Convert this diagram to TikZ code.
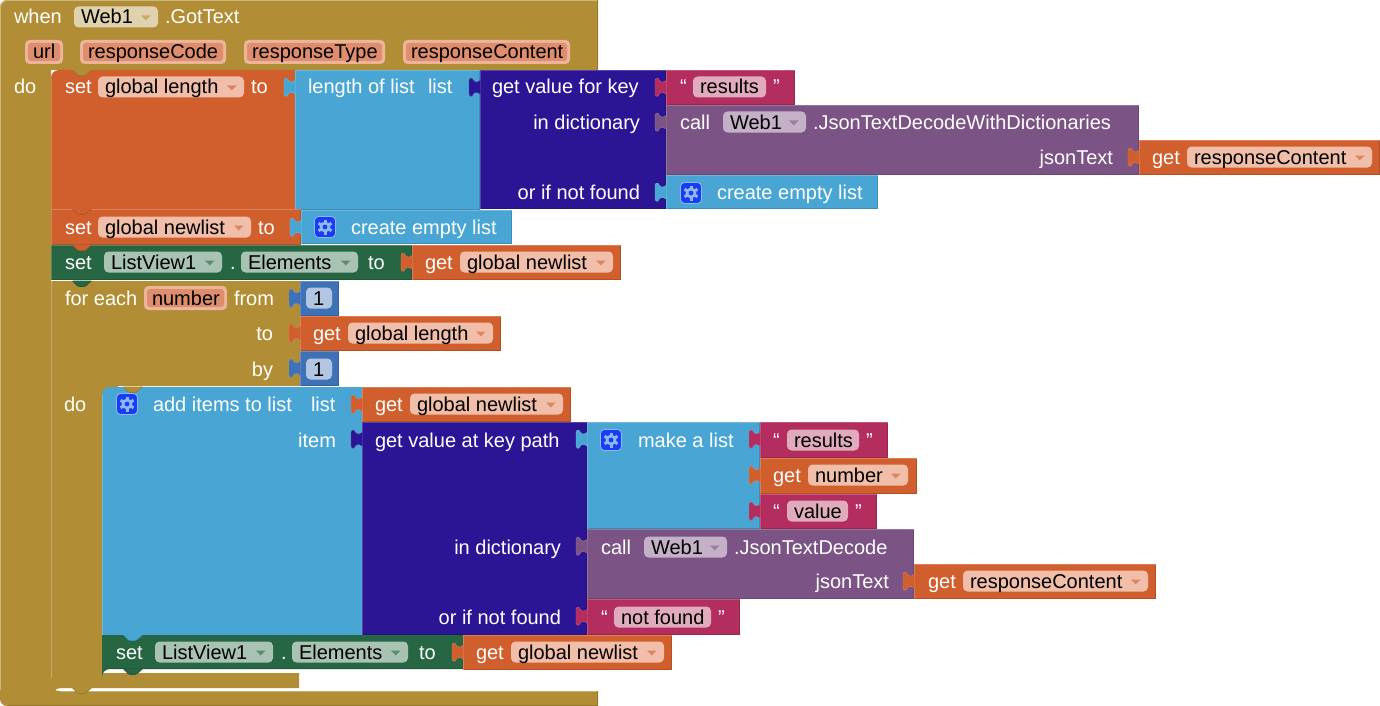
\documentclass[tikz,border=0pt]{standalone}
\usepackage{fontspec}
\setmainfont{Liberation Sans}
\definecolor{gold}{HTML}{B18E35}
\definecolor{orng}{HTML}{D05F2D}
\definecolor{lblue}{HTML}{49A6D4}
\definecolor{indg}{HTML}{2B1594}
\definecolor{mgnt}{HTML}{B32D5E}
\definecolor{purp}{HTML}{7C5385}
\definecolor{grn}{HTML}{266642}
\definecolor{nblue}{HTML}{3F71B7}
\definecolor{gearbg}{HTML}{1B3CF5}
\definecolor{gearfg}{HTML}{8DB9F0}
\definecolor{ofill}{HTML}{F0BEA9}
\definecolor{pedge}{HTML}{EDB49C}
\definecolor{pfill}{HTML}{DE8E6D}
\newcounter{tn}
\tikzset{
  lbl/.style={anchor=base west,inner sep=0pt,outer sep=0pt,font=\fontsize{20}{24}\selectfont},
  wlbl/.style={lbl,text=white},
  rlbl/.style={wlbl,anchor=base east},
  flbl/.style={lbl,text=black},
  fbox/.style={rounded corners=4.5pt},
}
\newcommand\wt[3]{\stepcounter{tn}\node[wlbl,name=t\arabic{tn}] at (#1,#2+7) {#3};}
\newcommand\rt[3]{\stepcounter{tn}\node[rlbl,name=t\arabic{tn}] at (#1,#2+7) {#3};}
\newcommand\blk[5]{%
  \fill[#5] (#1,#2) rectangle (#3,#4);
  \draw[#5!85!black,line width=.8pt] (#3-.4,#2) -- (#3-.4,#4-.4) -- (#1,#4-.4);
  \draw[#5!80!white,line width=.8pt] (#1+.4,#4) -- (#1+.4,#2+.4) -- (#3,#2+.4);
}
\newcommand\rblk[5]{%
  \fill[#5] (#1,#4) -- (#1,#2+8) arc[start angle=180,end angle=90,radius=8pt] -- (#3,#2) -- (#3,#4) -- cycle;
  \draw[#5!80!white,line width=.8pt] (#1+.4,#4) -- (#1+.4,#2+8);
}
% puzzle tab of an output block (x, block top, colour)
\newcommand\tabb[3]{%
  \fill[#3,draw=#3!80!white,line width=.4pt] (#1+.5,#2+10.5) -- (#1,#2+10.5) .. controls (#1-3,#2+12.5) and (#1-5.5,#2+13) .. (#1-6.5,#2+10.5)
     .. controls (#1-7.5,#2+7.5) and (#1-10.5,#2+7) .. (#1-11,#2+10.5)
     -- (#1-11,#2+23.5) .. controls (#1-10.5,#2+27.5) and (#1-7.5,#2+27) .. (#1-6.5,#2+23.5)
     .. controls (#1-5.5,#2+21.5) and (#1-3,#2+22) .. (#1,#2+24) -- (#1+.5,#2+24) -- cycle;
}
% statement notch (x of block left, y, colour)
\newcommand\ntch[3]{%
  \fill[#3,rounded corners=1pt] (#1+21,#2-.5) -- (#1+27,#2+5.5) -- (#1+34,#2+5.5) -- (#1+41,#2-.5) -- cycle;
  \draw[#3!85!black,line width=.6pt,rounded corners=1pt] (#1+21.5,#2) -- (#1+27,#2+5.5) -- (#1+34,#2+5.5) -- (#1+40.5,#2);
}
\newcommand\fld[6]{%
  \fill[#5,fbox] (#1,#3-10.5) rectangle (#2,#3+10.5);
  \stepcounter{tn}\node[flbl,name=t\arabic{tn}] at (#1+7,#3+7) {#4};
}
\newcommand\dfl[6]{%
  \fld{#1}{#2}{#3}{#4}{#5}{#6}
  \fill[#6!75!white] (#2-17,#3-1.5) -- (#2-7.5,#3-1.5) -- (#2-12.25,#3+3.5) -- cycle;
}
\newcommand\pfl[4]{%
  \fill[pedge,fbox] (#1,#3-12) rectangle (#2,#3+12);
  \fill[pfill,rounded corners=3pt] (#1+3,#3-9) rectangle (#2-3,#3+9);
  \stepcounter{tn}\node[flbl,name=t\arabic{tn}] at (#1+8,#3+7) {#4};
}
\newcommand\gearic[2]{%
  \begin{scope}[shift={(#1+11,#2)}]
    \fill[gearbg,draw=gearfg,line width=.8pt,rounded corners=4pt] (-10.5,-10.5) rectangle (10.5,10.5);
    \foreach \a in {30,90,...,330}
      \draw[gearfg,line width=3pt] (0,0) -- (\a:7.5pt);
    \fill[gearfg] (0,0) circle[radius=5.4pt];
    \fill[gearbg] (0,0) circle[radius=2.4pt];
  \end{scope}
}
\newcommand\ofld[4]{\dfl{#1}{#2}{#3}{#4}{ofill}{orng}}
\newcommand\gfld[4]{\dfl{#1}{#2}{#3}{#4}{grn!40!white}{grn}}
\newcommand\pufld[4]{\dfl{#1}{#2}{#3}{#4}{purp!45!white}{purp}}
\newcommand\mfld[4]{\fld{#1}{#2}{#3}{#4}{mgnt!40!white}{mgnt}}
\begin{document}
\begin{tikzpicture}[x=1pt,y=-1pt]
\useasboundingbox (0,0) rectangle (1380,706);
\fill[white] (0,0) rectangle (1380,706);
% ---- event C block
\fill[gold,rounded corners=7pt] (0,353) -- (0,0) -- (300,0) [sharp corners] -- (598,0) -- (598,70) -- (51,70) -- (51,500) [rounded corners=8pt] -- (51,691) -- (300,691) [sharp corners] -- (598,691) -- (598,706) -- (300,706) [rounded corners=7pt] -- (0,706) -- cycle;
\draw[gold!65!white,line width=.8pt] (0.4,690) -- (0.4,8) arc[start angle=180,end angle=90,radius=7.6pt] -- (598,.4);
\draw[gold!70!white,line width=.8pt] (60,691.4) -- (598,691.4);
\draw[gold!85!black,line width=.8pt] (597.6,0) -- (597.6,70);
\draw[gold!85!black,line width=.8pt] (597.6,691) -- (597.6,705.6) -- (8,705.6);
% ---- for-each C block
\fill[gold] (51,281) -- (300,281) -- (300,386) -- (102,386) -- (102,673) -- (299,673) -- (299,688) -- (61,688) arc[start angle=90,end angle=180,radius=10pt] -- cycle;
\draw[gold!75!white,line width=.8pt] (51.4,281) -- (51.4,678);
\fill[gold] (102,386) rectangle (118,398);
% ---- statement blocks, value blocks
\rblk{51}{70}{295}{210}{orng}
\blk{295}{70}{480}{210}{lblue}
\blk{480}{70}{666}{209}{indg}
\blk{666}{70}{795}{105}{mgnt}
\blk{666}{105}{1139}{175}{purp}
\blk{1139}{140}{1380}{175}{orng}
\blk{666}{175}{878}{209}{lblue}
\blk{51}{209}{301}{245}{orng}
\blk{301}{210}{512}{244}{lblue}
\blk{51}{245}{412}{280}{grn}
\blk{412}{245}{621}{280}{orng}
\blk{300}{281}{339}{316}{nblue}
\blk{300}{316}{501}{351}{orng}
\blk{300}{351}{339}{386}{nblue}
\rblk{102}{387}{362}{635}{lblue}
\blk{362}{387}{571}{422}{orng}
\blk{362}{422}{587}{635}{indg}
\blk{587}{422}{760}{529}{lblue}
\blk{760}{422}{888}{458}{mgnt}
\blk{760}{458}{917}{494}{orng}
\blk{760}{494}{877}{529}{mgnt}
\blk{587}{529}{914}{599}{purp}
\blk{914}{564}{1156}{599}{orng}
\blk{587}{599}{740}{635}{mgnt}
\fill[grn] (102,635) -- (463,635) -- (463,669) -- (110,669) arc[start angle=90,end angle=180,radius=8pt] -- cycle;
\draw[grn!85!black,line width=.8pt] (110,668.6) -- (463,668.6);
\blk{463}{635}{672}{670}{orng}
% ---- puzzle tabs
\tabb{295}{70}{lblue}
\tabb{480}{70}{indg}
\tabb{666}{70}{mgnt}
\tabb{666}{105}{purp}
\tabb{1139}{140}{orng}
\tabb{666}{175}{lblue}
\tabb{301}{210}{lblue}
\tabb{412}{245}{orng}
\tabb{300}{281}{nblue}
\tabb{300}{316}{orng}
\tabb{300}{351}{nblue}
\tabb{362}{387}{orng}
\tabb{362}{422}{indg}
\tabb{587}{422}{lblue}
\tabb{760}{422}{mgnt}
\tabb{760}{458}{orng}
\tabb{760}{494}{mgnt}
\tabb{587}{529}{purp}
\tabb{914}{564}{orng}
\tabb{587}{599}{mgnt}
\tabb{463}{635}{orng}
% ---- notches
\ntch{51}{70}{gold}
\ntch{51}{209}{orng}
\ntch{51}{245}{orng}
\ntch{51}{281}{grn}
\ntch{102}{387}{gold}
\ntch{102}{635}{lblue}
\ntch{102}{669}{grn}
\ntch{51}{688}{gold}
% ---- row texts
\wt{14}{17}{when}
\dfl{74}{158}{17}{Web1}{gold!40!white}{gold}
\wt{165}{17}{.GotText}
\pfl{25}{63}{52}{url}
\pfl{80}{226}{52}{responseCode}
\pfl{244}{385}{52}{responseType}
\pfl{403}{570}{52}{responseContent}
\wt{14}{87}{do}
\wt{65}{87}{set}
\ofld{98}{244}{87}{global length}
\wt{251}{87}{to}
\wt{308}{87}{length of list}
\wt{428}{87}{list}
\wt{492}{87}{get value for key}
\wt{680}{87}{“}
\mfld{693}{766}{87}{results}
\wt{773}{87}{”}
\rt{640}{122}{in dictionary}
\wt{680}{122}{call}
\pufld{723}{806}{122}{Web1}
\wt{813}{122}{.JsonTextDecodeWithDictionaries}
\rt{1113}{157}{jsonText}
\wt{1152}{157}{get}
\ofld{1187}{1372}{157}{responseContent}
\rt{640}{192}{or if not found}
\gearic{680}{193}
\wt{717}{192}{create empty list}
\wt{65}{227}{set}
\ofld{98}{251}{227}{global newlist}
\wt{258}{227}{to}
\gearic{314}{227}
\wt{351}{227}{create empty list}
\wt{65}{262}{set}
\gfld{104}{222}{262}{ListView1}
\wt{230}{262}{.}
\gfld{241}{358}{262}{Elements}
\wt{368}{262}{to}
\wt{425}{262}{get}
\ofld{460}{613}{262}{global newlist}
\wt{65}{298}{for each}
\pfl{144}{227}{298}{number}
\wt{234}{298}{from}
\fld{306}{332}{298}{1}{nblue!40!white}{nblue}
\rt{273}{333}{to}
\wt{313}{333}{get}
\ofld{348}{493}{333}{global length}
\rt{273}{369}{by}
\fld{306}{332}{369}{1}{nblue!40!white}{nblue}
\wt{64}{404}{do}
\gearic{116}{404}
\wt{153}{404}{add items to list}
\wt{311}{404}{list}
\wt{375}{404}{get}
\ofld{410}{563}{404}{global newlist}
\rt{336}{440}{item}
\wt{375}{440}{get value at key path}
\gearic{600}{440}
\wt{638}{440}{make a list}
\wt{773}{440}{“}
\mfld{787}{859}{440}{results}
\wt{866}{440}{”}
\wt{773}{475}{get}
\ofld{808}{908}{475}{number}
\wt{773}{511}{“}
\mfld{787}{848}{511}{value}
\wt{855}{511}{”}
\rt{561}{547}{in dictionary}
\wt{601}{547}{call}
\pufld{644}{727}{547}{Web1}
\wt{734}{547}{.JsonTextDecode}
\rt{889}{581}{jsonText}
\wt{928}{581}{get}
\ofld{963}{1148}{581}{responseContent}
\rt{561}{617}{or if not found}
\wt{601}{617}{“}
\mfld{614}{711}{617}{not found}
\wt{718}{617}{”}
\wt{116}{652}{set}
\gfld{155}{273}{652}{ListView1}
\wt{281}{652}{.}
\gfld{292}{408}{652}{Elements}
\wt{419}{652}{to}
\wt{476}{652}{get}
\ofld{511}{664}{652}{global newlist}
\end{tikzpicture}
\end{document}
